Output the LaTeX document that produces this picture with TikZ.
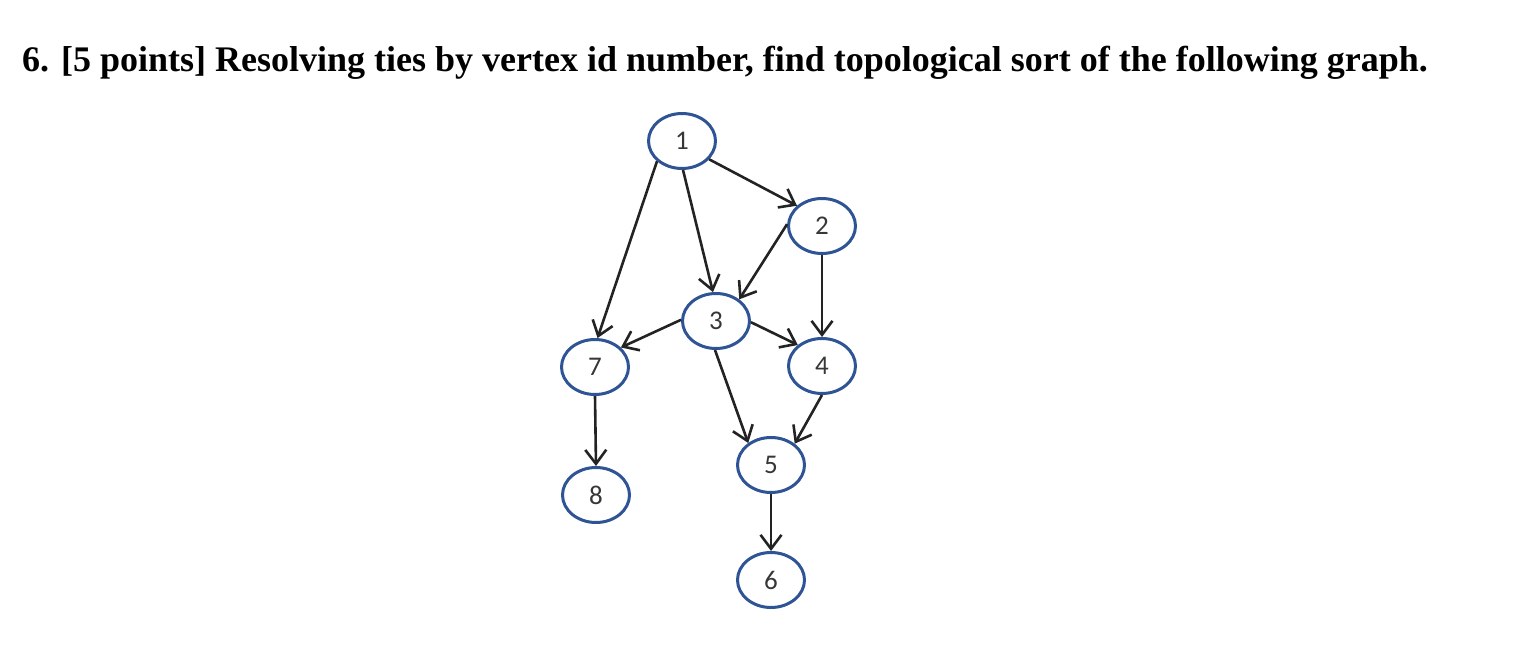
\documentclass[tikz,border=0pt]{standalone}
\usepackage{fontspec}
\setmainfont{Liberation Serif}
\newfontfamily\nodefont{Carlito}
\usetikzlibrary{shapes.geometric,arrows.meta}
\definecolor{nodeblue}{RGB}{46,84,150}
\definecolor{numgray}{RGB}{55,55,55}
\definecolor{edgegray}{RGB}{35,35,35}
\newcommand{\vtxfont}{\nodefont\fontsize{27pt}{27pt}\selectfont}
\tikzset{
  vtx/.style={ellipse,draw=nodeblue,line width=3pt,minimum width=67pt,minimum height=55pt,inner sep=0pt,
    font=\vtxfont,text=numgray},
  edge/.style={draw=edgegray,line width=2.6pt,-{Straight Barb[length=14pt,width=21pt,line width=2.6pt]}}
}
\begin{document}
\begin{tikzpicture}[x=1pt,y=-1pt]
\useasboundingbox (0,0) rectangle (1527,650);
\node[anchor=base west,inner sep=0pt,font=\bfseries\fontsize{36pt}{36pt}\selectfont] (title) at (22,72)
  {6. [5 points] Resolving ties by vertex id number, find topological sort of the following graph.};
\node[vtx] (n1) at (682,141) {1};
\node[vtx] (n2) at (822,226) {2};
\node[vtx] (n3) at (716,321) {3};
\node[vtx] (n4) at (822,366) {4};
\node[vtx] (n7) at (595,367) {7};
\node[vtx] (n5) at (771,465) {5};
\node[vtx] (n8) at (596,495) {8};
\node[vtx] (n6) at (771,580) {6};
\draw[edge] (n1.219) -- (n7.85);
\draw[edge] (n1.272) -- (n3.96);
\draw[edge] (n1.326) -- (n2.141);
\draw[edge] (n2.177) -- (n3.43);
\draw[edge] (n2.270) -- (n4.90);
\draw[edge] (n3.178) -- (n7.37);
\draw[edge] (n3.358) -- (n4.139);
\draw[edge] (n3.268) -- (n5.136);
\draw[edge] (n4.270) -- (n5.42);
\draw[edge] (n5.270) -- (n6.90);
\draw[edge] (n7.270) -- (n8.90);
\end{tikzpicture}
\end{document}
